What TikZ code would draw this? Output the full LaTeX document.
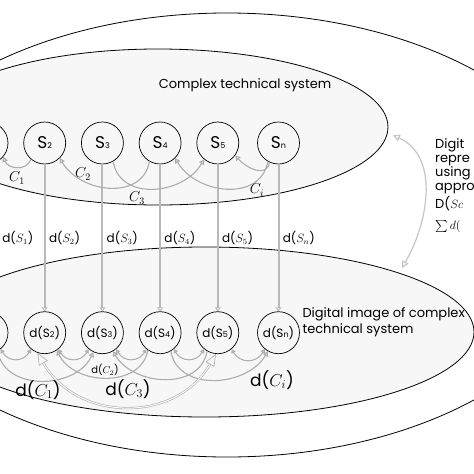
\documentclass[tikz,border=0pt]{standalone}
\usepackage{fontspec}
\setmainfont{Poppins}
\usepackage{amsmath}
\usetikzlibrary{arrows.meta,positioning}
\newcommand{\sm}[1]{{\fontsize{8}{8}\selectfont #1}}
\tikzset{
  outer/.style={draw,line width=0.8pt},
  sys/.style={draw,line width=0.8pt,fill=gray!6},
  st/.style={circle,draw,line width=0.7pt,minimum size=42pt,inner sep=0pt,font=\fontsize{17}{17}\selectfont},
  dst/.style={circle,draw,line width=0.7pt,minimum size=42pt,inner sep=0pt,font=\fontsize{12}{12}\selectfont},
  conn/.style={draw=gray!65,line width=1.1pt,-{Triangle[open,length=5pt,width=5.5pt]}},
  dconn/.style={draw=gray!65,line width=1pt,{Triangle[open,length=4pt,width=4.5pt]}-{Triangle[open,length=4pt,width=4.5pt]}},
  link/.style={draw=gray!55,line width=2pt,-{Triangle[open,length=4pt,width=6pt,line width=0.8pt]}},
  bigconn/.style={draw=gray!65,double=white,double distance=1pt,line width=0.6pt,
    {Triangle[open,length=12pt,width=10pt]}-{Triangle[open,length=12pt,width=10pt]}},
  backconn/.style={draw=gray!45,line width=1.2pt,
    {Triangle[open,length=7pt,width=7pt]}-{Triangle[open,length=7pt,width=7pt]}},
  lbl/.style={font=\fontsize{14}{14}\selectfont},
  dlbl/.style={font=\fontsize{12}{12}\selectfont,anchor=west},
  every node/.style={font=\fontsize{13}{16}\selectfont}
}

\begin{document}
\begin{tikzpicture}[x=1pt,y=1pt]
\clip (0,0) rectangle (474,-474);
\fill[white] (0,0) rectangle (474,-474);

% system boundaries
\draw[outer] (227,-235) ellipse [x radius=369, y radius=222];
\draw[sys] (158,-127) ellipse [x radius=230, y radius=78];
\draw[sys] (205,-332) ellipse [x radius=269, y radius=85];

\node (cts) at (245,-85) {Complex technical system};
\node[align=left,anchor=west] (dis) at (299,-322) {Digital image of complex\\technical system};

% physical subsystems
\node[st] (s1) at (-13,-143) {S\sm{1}};
\node[st, right=15pt of s1] (s2) {S\sm{2}};
\node[st, right=15pt of s2] (s3) {S\sm{3}};
\node[st, right=15pt of s3] (s4) {S\sm{4}};
\node[st, right=15pt of s4] (s5) {S\sm{5}};
\node[st, right=18pt of s5] (sn) {S\sm{n}};

% digital images
\node[dst, below=147pt of s1] (d1) {d(S\sm{1})};
\node[dst, right=15pt of d1] (d2) {d(S\sm{2})};
\node[dst, right=15pt of d2] (d3) {d(S\sm{3})};
\node[dst, right=15pt of d3] (d4) {d(S\sm{4})};
\node[dst, right=15pt of d4] (d5) {d(S\sm{5})};
\node[dst, right=18pt of d5] (dn) {d(S\sm{n})};

\draw[link] (s1) -- (d1) node[pos=0.5,dlbl,xshift=11pt] (l1) {d($S_1$)};
\foreach \k in {2,3,4,5,n}
  \draw[link] (s\k) -- (d\k) node[pos=0.5,dlbl] (l\k) {d($S_{\k}$)};

% links between subsystems
\draw[conn] (s2.-130) to[out=-110,in=-70,looseness=1.2] (s1.-40);
\draw[conn] (s4.-120) to[out=-100,in=-60,looseness=1.15] (s2.-45);
\draw[conn] (s3.-60) to[out=-80,in=-120,looseness=1.15] (s5.-130);
\draw[conn] (sn.-120) to[out=-100,in=-60,looseness=1.15] (s4.-45);
\draw[conn] (sn.-115) to[out=-100,in=-50,looseness=1.2] (s5.-35);
\node[lbl] (c1) at (17,-178) {$C_1$};
\node[lbl] (c2) at (83,-174) {$C_2$};
\node[lbl] (c3) at (137,-198) {$C_3$};
\node[lbl] (ci) at (257,-190) {$C_i$};

% links between images
\foreach \a/\b in {1/2,2/3,3/4,4/5,5/n}
  \draw[dconn] (d\a.-50) to[out=-60,in=-120,looseness=1.3] (d\b.-130);
\draw[conn] (d4.-125) to[out=-100,in=-65,looseness=1.1] (d2.-55);
\draw[conn] (d1.-60) to[out=-80,in=-115,looseness=1.1] (d3.-115);
\draw[conn] (d5.-120) to[out=-100,in=-60,looseness=1.1] (d3.-60);
\draw[conn] (d4.-60) to[out=-80,in=-120,looseness=1.1] (dn.-120);
\draw[bigconn] (d2.-110) to[out=-60,in=-120,looseness=1.15] (d5.-95);
\node[font=\fontsize{17}{17}\selectfont] (dc1) at (38,-390) {d($C_1$)};
\node[font=\fontsize{10}{10}\selectfont] (dc2) at (105,-370) {d($C_2$)};
\node[font=\fontsize{17}{17}\selectfont] (dc3) at (128,-389) {d($C_3$)};
\node[font=\fontsize{17}{17}\selectfont] (dci) at (272,-380) {d($C_i$)};

% representation
\coordinate (ra) at (393,-135);
\coordinate (rb) at (402,-268);
\draw[backconn] (ra) to[out=-25,in=60] (rb);
\node[align=left,anchor=north west,inner sep=0pt,font=\fontsize{13}{14}\selectfont] (rt) at (435,-138)
  {Digit\\repre\\using\\appro\\[2pt]D($Sc$\\[7pt]$\sum d($};
\end{tikzpicture}
\end{document}
